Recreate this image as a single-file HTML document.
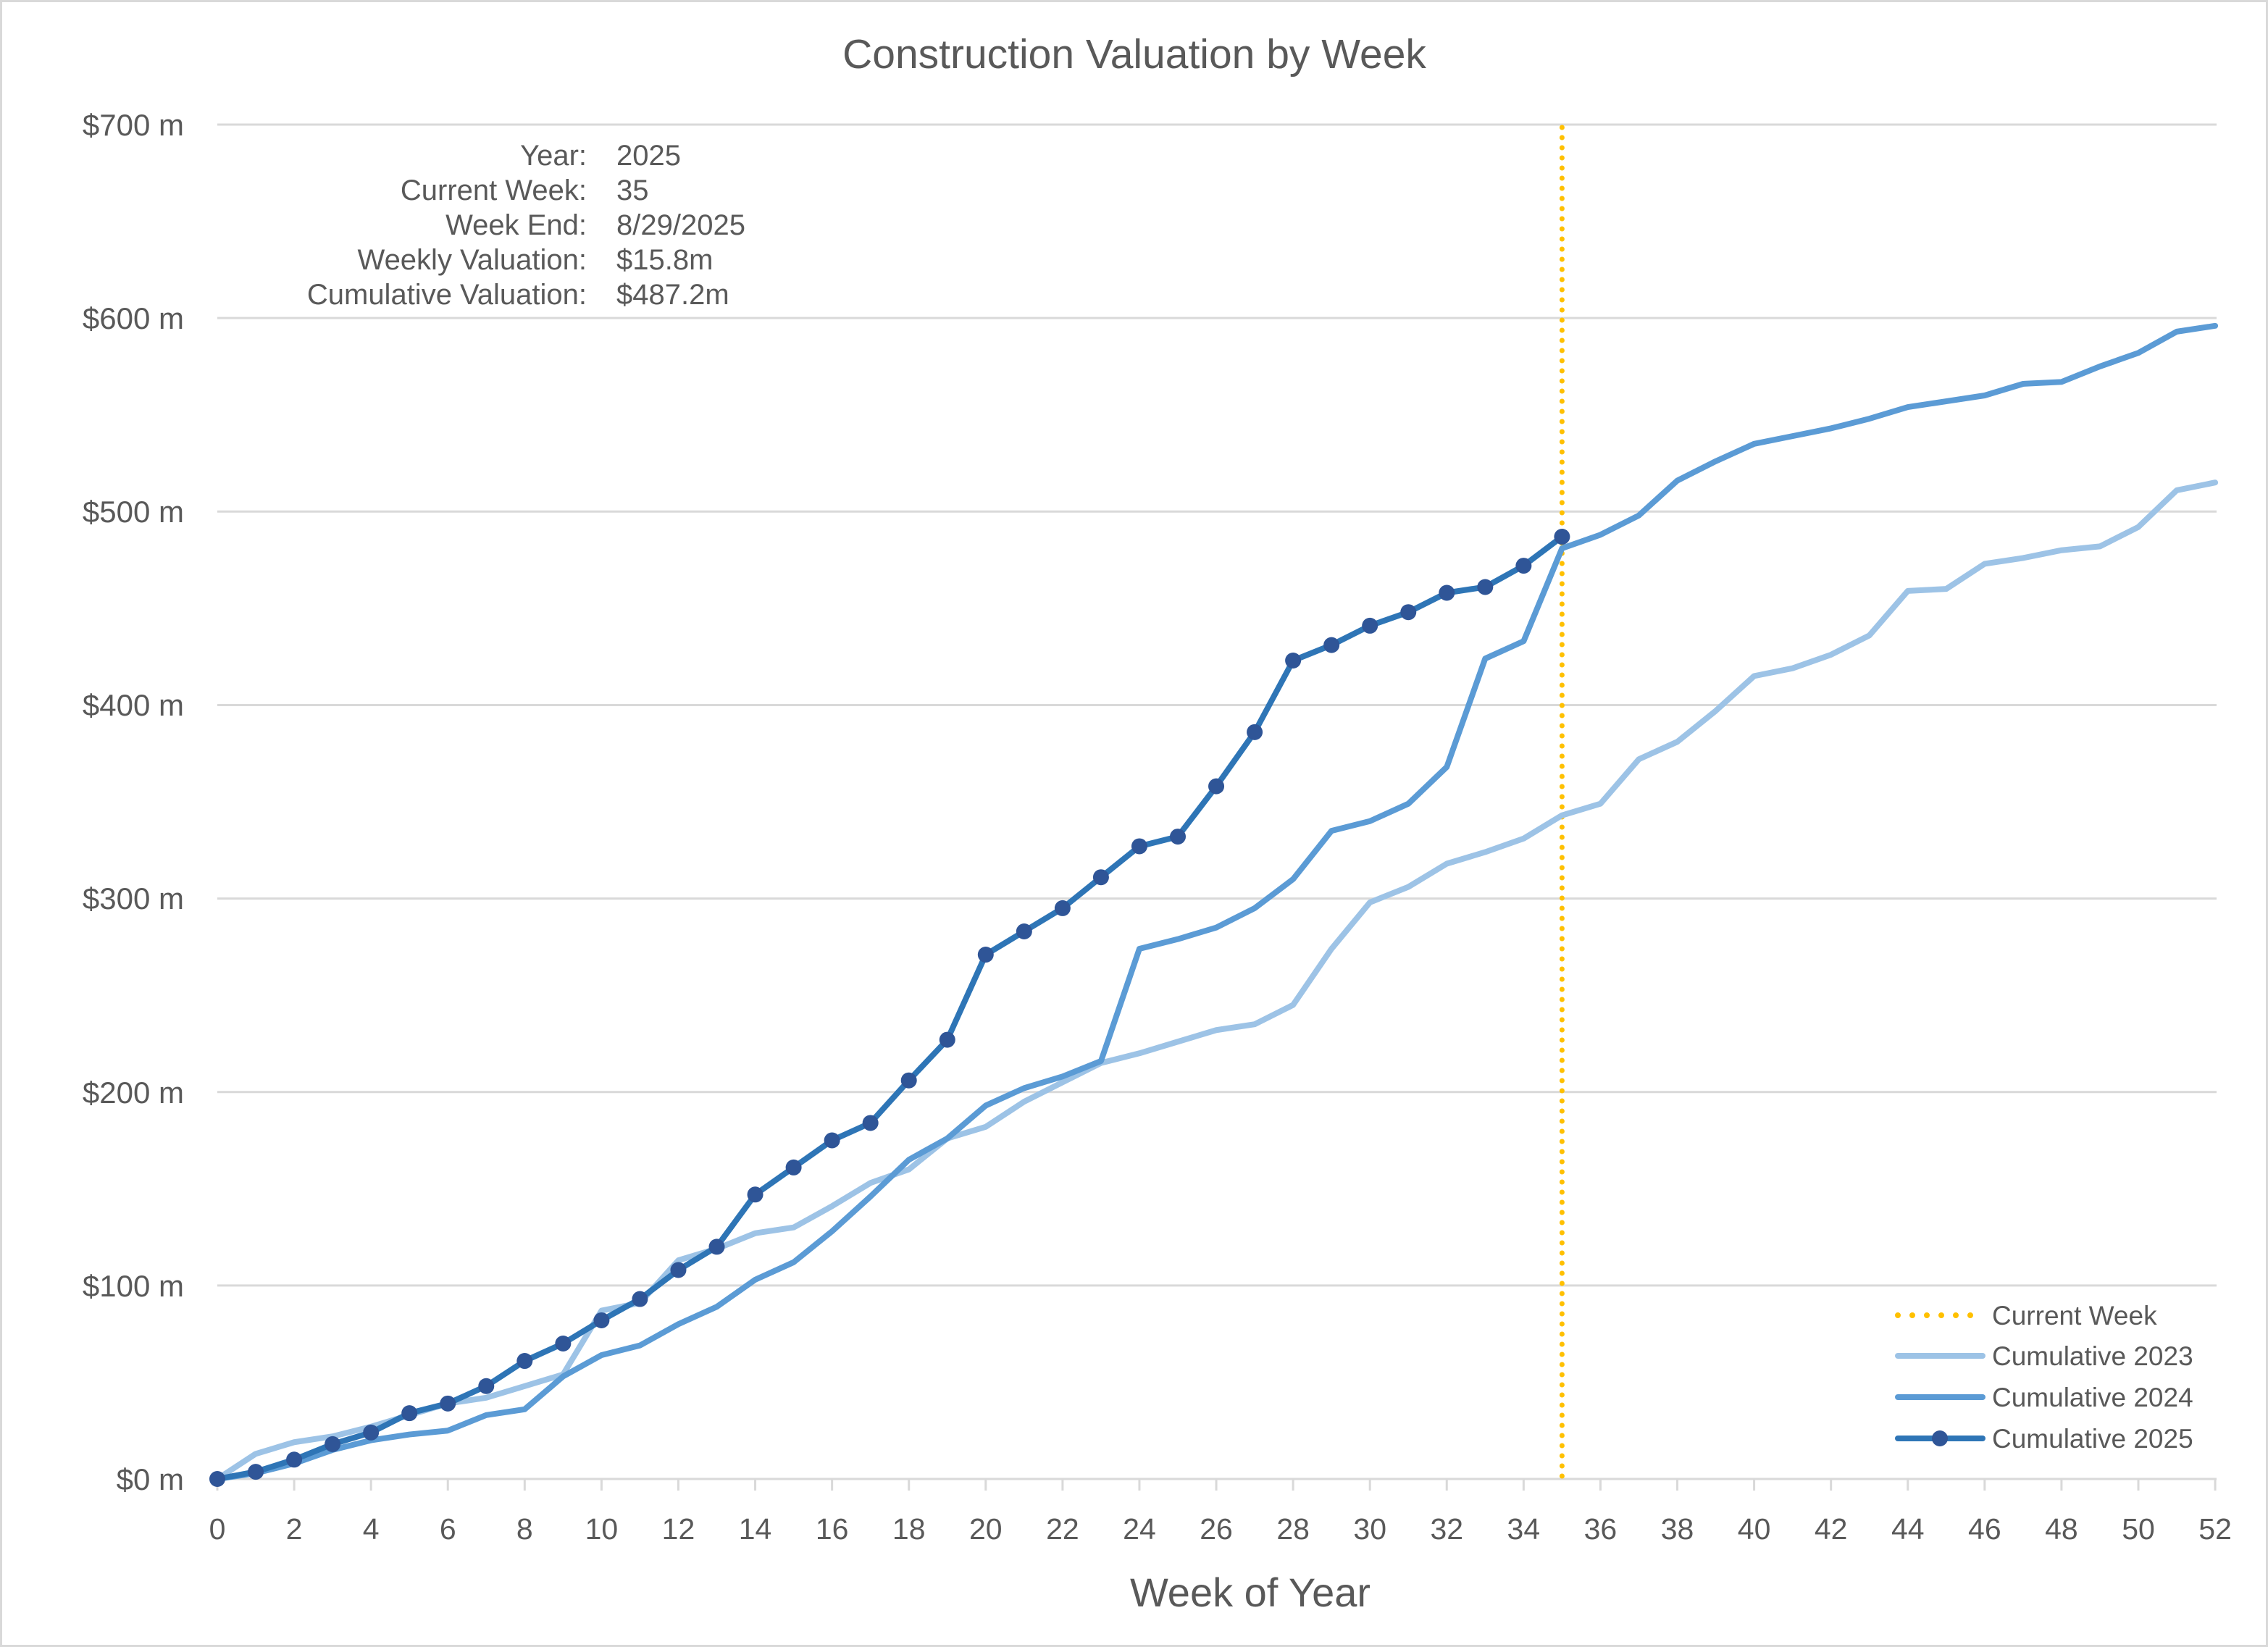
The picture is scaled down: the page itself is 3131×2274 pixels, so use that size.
<!DOCTYPE html>
<html><head><meta charset="utf-8"><style>
html,body{margin:0;padding:0;background:#fff}
svg{display:block}
text{fill:#595959;font-family:"Liberation Sans",sans-serif}
</style></head><body>
<svg id="s" width="3131" height="2274" viewBox="0 0 3131 2274" xmlns="http://www.w3.org/2000/svg">
<rect x="1.5" y="1.5" width="3128" height="2271" fill="#fff" stroke="#d9d9d9" stroke-width="3"/>
<text x="1566" y="94" font-size="57" text-anchor="middle">Construction Valuation by Week</text>
<g id="grid" stroke="#d9d9d9" stroke-width="3"></g>
<g font-size="42" text-anchor="end">
<text x="254" y="2057">$0 m</text>
<text x="254" y="1790">$100 m</text>
<text x="254" y="1523">$200 m</text>
<text x="254" y="1255">$300 m</text>
<text x="254" y="988">$400 m</text>
<text x="254" y="721">$500 m</text>
<text x="254" y="454">$600 m</text>
<text x="254" y="187">$700 m</text>
</g>
<g id="xl" font-size="41" text-anchor="middle"></g>
<text x="1726" y="2218" font-size="56" text-anchor="middle">Week of Year</text>
<g font-size="40">
<text x="810" y="228" text-anchor="end">Year:</text><text x="851" y="228">2025</text>
<text x="810" y="276" text-anchor="end">Current Week:</text><text x="851" y="276">35</text>
<text x="810" y="324" text-anchor="end">Week End:</text><text x="851" y="324">8/29/2025</text>
<text x="810" y="372" text-anchor="end">Weekly Valuation:</text><text x="851" y="372">$15.8m</text>
<text x="810" y="420" text-anchor="end">Cumulative Valuation:</text><text x="851" y="420">$487.2m</text>
</g>
<g id="series"></g>
<g font-size="37">
<line x1="2620" y1="1816" x2="2730" y2="1816" stroke="#FFC000" stroke-width="8" stroke-dasharray="0 20" stroke-linecap="round"/>
<text x="2750" y="1829">Current Week</text>
<line x1="2620" y1="1872" x2="2737" y2="1872" stroke="#9DC3E6" stroke-width="8" stroke-linecap="round"/>
<text x="2750" y="1885">Cumulative 2023</text>
<line x1="2620" y1="1929" x2="2737" y2="1929" stroke="#5B9BD5" stroke-width="8" stroke-linecap="round"/>
<text x="2750" y="1942">Cumulative 2024</text>
<line x1="2620" y1="1986" x2="2737" y2="1986" stroke="#2E75B6" stroke-width="8" stroke-linecap="round"/>
<circle cx="2678" cy="1986" r="11" fill="#2F5597"/>
<text x="2750" y="1999">Cumulative 2025</text>
</g>
</svg>
<script>
var NS="http://www.w3.org/2000/svg";
function X(w){return 300+w*53.04}
function Y(v){return 2042-v*2.6714}
function el(p,n,a){var e=document.createElementNS(NS,n);for(var k in a)e.setAttribute(k,a[k]);p.appendChild(e);return e}
var g=document.getElementById('grid');
for(var i=1;i<=7;i++)el(g,'line',{x1:300,x2:3060,y1:Y(i*100),y2:Y(i*100)});
el(g,'line',{x1:300,x2:3060,y1:2042,y2:2042});
var xl=document.getElementById('xl');
for(var w=0;w<=52;w+=2){el(g,'line',{x1:X(w),x2:X(w),y1:2042,y2:2058});var t=el(xl,'text',{x:X(w),y:2125});t.textContent=w;}
var d23=[0,13,19,22,27,33,39,42,48,54,87,91,113,119,127,130,141,153,160,176,182,195,205,215,220,226,232,235,245,274,298,306,318,324,331,343,349,372,381,397,415,419,426,436,459,460,473,476,480,482,492,511,515];
var d24=[0,3,8,15,20,23,25,33,36,53,64,69,80,89,103,112,128,146,165,176,193,202,208,216,274,279,285,295,310,335,340,349,368,424,433,481,488,498,516,526,535,539,543,548,554,557,560,566,567,575,582,593,596];
var d25=[0,3.7,10,18,24,34,39,48,61,70,82,93,108,120,147,161,175,184,206,227,271,283,295,311,327,332,358,386,423,431,441,448,458,461,472,487];
var s=document.getElementById('series');
el(s,'line',{x1:X(35),x2:X(35),y1:176,y2:2042,stroke:'#FFC000','stroke-width':7,'stroke-dasharray':'0 14','stroke-linecap':'round'});
function pl(d,c){el(s,'polyline',{points:d.map(function(v,i){return X(i)+','+Y(v)}).join(' '),fill:'none',stroke:c,'stroke-width':8,'stroke-linejoin':'round','stroke-linecap':'round'})}
pl(d23,'#9DC3E6');pl(d24,'#5B9BD5');pl(d25,'#2E75B6');
d25.forEach(function(v,i){el(s,'circle',{cx:X(i),cy:Y(v),r:11,fill:'#2F5597'})});
</script>
</body></html>
